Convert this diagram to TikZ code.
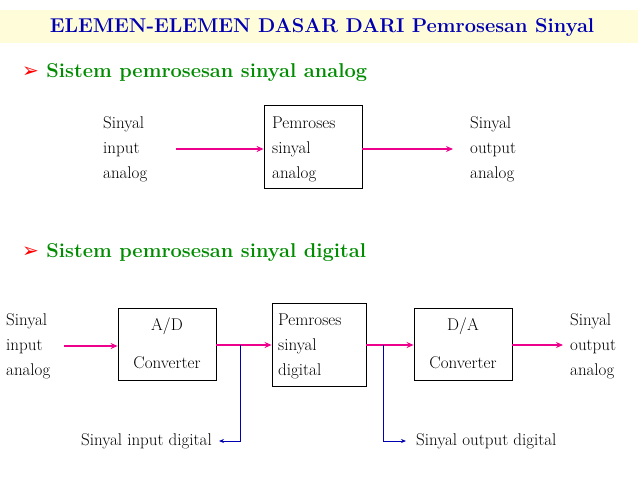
\documentclass[tikz,border=0pt]{standalone}
\usepackage{fontspec}
\usetikzlibrary{arrows.meta}
\newfontfamily\dv{DejaVu Sans}
\begin{document}
\begin{tikzpicture}[x=1pt,y=-1pt,
 txt/.style={font=\fontsize{17}{25}\selectfont,align=left,inner sep=0pt,anchor=west},
 blk/.style={draw,thick,inner sep=0pt},
 mag/.style={draw=magenta,line width=2pt,-{Stealth[length=7pt,width=6pt]}},
 blu/.style={draw=blue!70!black,thick,-{Stealth[length=5pt,width=4pt]}},
 head/.style={font=\fontsize{20}{24}\selectfont\bfseries,text=green!55!black,anchor=west,inner sep=0pt}]
\useasboundingbox (0,0) rectangle (638,479);
\fill[yellow!15] (0,10) rectangle (638,43);
\node[font=\fontsize{20}{24}\selectfont\bfseries,text=blue!70!black] (title) at (322,27) {ELEMEN-ELEMEN DASAR DARI Pemrosesan Sinyal};
\node[head] (h1) at (22,73) {{\dv\color{red}\fontsize{20}{20}\selectfont ➢} Sistem pemrosesan sinyal analog};
\node[head] (h2) at (22,253) {{\dv\color{red}\fontsize{20}{20}\selectfont ➢} Sistem pemrosesan sinyal digital};
% analog
\node[txt] (ain) at (103,149) {Sinyal\\input\\analog};
\node[blk,minimum width=98,minimum height=83] (ab) at (313,146.5) {};
\node[txt] (abt) at (272,149) {Pemroses\\sinyal\\analog};
\node[txt] (aout) at (470,149) {Sinyal\\output\\analog};
\coordinate (a1) at (176,149); \coordinate (a2) at (453,149);
\draw[mag] (a1) -- (ab.west |- a1);
\draw[mag] (ab.east |- a1) -- (a2);
% digital
\node[txt] (din) at (6,346) {Sinyal\\input\\analog};
\node[blk,minimum width=98,minimum height=72] (ad) at (167,344) {};
\node[font=\fontsize{17}{25}\selectfont] (adt1) at (167,326) {A/D};
\node[font=\fontsize{17}{25}\selectfont] (adt2) at (167,363) {Converter};
\node[blk,minimum width=94,minimum height=83] (pd) at (319,344.5) {};
\node[txt] (pdt) at (278,346) {Pemroses\\sinyal\\digital};
\node[blk,minimum width=98,minimum height=72] (da) at (463,344) {};
\node[font=\fontsize{17}{25}\selectfont] (dat1) at (463,326) {D/A};
\node[font=\fontsize{17}{25}\selectfont] (dat2) at (463,363) {Converter};
\node[txt] (dout) at (570,346) {Sinyal\\output\\analog};
\coordinate (d1) at (64,346); \coordinate (d2) at (563,345);
\draw[mag] (d1) -- (ad.west |- d1);
\draw[mag] (ad.east |- 0,345) -- (pd.west |- 0,345);
\draw[mag] (pd.east |- 0,345) -- (da.west |- 0,345);
\draw[mag] (da.east |- 0,345) -- (d2);
\node[font=\fontsize{17}{25}\selectfont,anchor=east,inner sep=0pt] (sid) at (212,441) {Sinyal input digital};
\node[font=\fontsize{17}{25}\selectfont,anchor=west,inner sep=0pt] (sod) at (416,441) {Sinyal output digital};
\coordinate (b1) at (240,345); \coordinate (b2) at (383,345);
\draw[blu] (b1) -- (240,441) -- ([xshift=7pt]sid.east);
\draw[blu] (b2) -- (383,441) -- ([xshift=-10pt]sod.west);
\end{tikzpicture}
\end{document}
